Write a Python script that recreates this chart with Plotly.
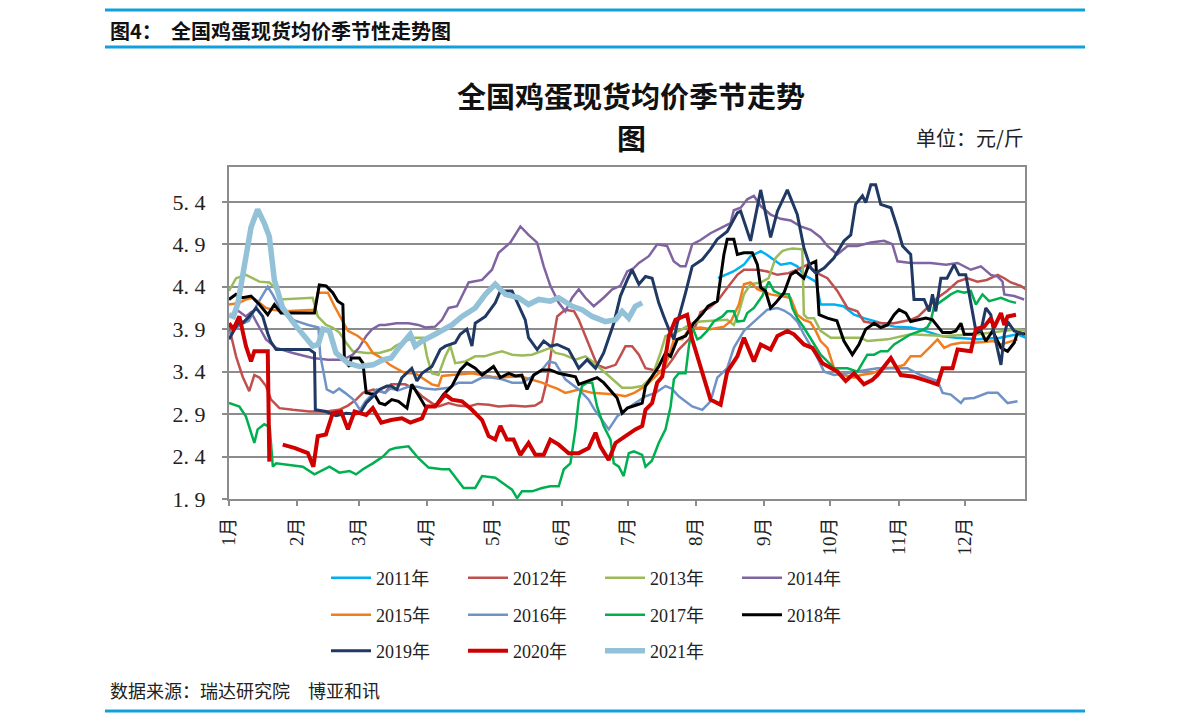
import plotly.graph_objects as go

# ---------------- data (day of year, price yuan/jin) ----------------
months = ["1月", "2月", "3月", "4月", "5月", "6月", "7月", "8月", "9月", "10月", "11月", "12月"]
month_start_day = [0, 31, 59, 90, 120, 151, 181, 212, 243, 273, 304, 334]
y_ticks = [1.9, 2.4, 2.9, 3.4, 3.9, 4.4, 4.9, 5.4]
y_ticktext = ["1. 9", "2. 4", "2. 9", "3. 4", "3. 9", "4. 4", "4. 9", "5. 4"]

d2011 = [222, 226, 229, 233.8, 236.8, 239.9, 241.4, 244, 247.4, 250.5, 255, 258, 261, 264, 266.4, 268.6,
         274.7, 279, 283.8, 288.3, 295, 302, 309.5, 316, 323.2, 330, 340, 350, 358, 361.8]
v2011 = [4.5, 4.55, 4.58, 4.66, 4.76, 4.8, 4.82, 4.78, 4.72, 4.66, 4.68, 4.64, 4.54, 4.5, 4.46, 4.19,
         4.19, 4.17, 4.07, 4.03, 3.98, 3.93, 3.92, 3.88, 3.82, 3.8, 3.78, 3.8, 3.84, 3.8]

d2012 = [0, 1, 3.2, 6.2, 9.2, 11.5, 13.8, 16.8, 19.1, 22.9, 29, 36.5, 44, 50, 54, 57.7, 60.8, 65.6, 70.9,
         73.6, 80, 84, 87.6, 92.1, 95.1, 99.7, 104, 108.8, 113, 117.9, 122.4, 128, 134.5, 139, 142, 144.4,
         146.7, 149, 152.7, 156.7, 158.8, 161.1, 164.1, 167.1, 170.9, 175.5, 178, 180, 183, 186.1, 189.1,
         195.9, 198.9, 201.5, 204.2, 208.8, 212, 214.1, 218, 221.7, 226, 230.8, 233.8, 240, 244.4, 249,
         254, 258, 262.6, 267.1, 271.7, 276.2, 280.8, 285.3, 288.3, 292.9, 302, 309.5, 313, 317, 321.7,
         326, 330.8, 335.3, 339.8, 344, 349, 352, 355, 359.5, 361.8]
v2012 = [3.95, 3.82, 3.58, 3.34, 3.17, 3.36, 3.33, 3.23, 3.07, 2.97, 2.95, 2.93, 2.93, 2.95, 3.0, 3.07,
         3.15, 3.19, 3.15, 3.25, 3.25, 3.2, 3.11, 3.03, 2.99, 3.03, 3.0, 2.99, 3.02, 3.01, 2.99, 3.0, 2.99,
         3.0, 3.05, 3.3, 3.7, 4.05, 4.13, 4.11, 4.01, 3.86, 3.66, 3.48, 3.44, 3.48, 3.6, 3.7, 3.7, 3.6,
         3.44, 3.4, 3.46, 3.55, 3.66, 3.78, 3.95, 4.1, 4.15, 4.23, 4.38, 4.54, 4.6, 4.6, 4.58, 4.54, 4.56,
         4.6, 4.66, 4.56, 4.5, 4.35, 4.15, 4.11, 3.99, 3.97, 3.97, 4.01, 4.05, 4.15, 4.27, 4.35, 4.46,
         4.5, 4.46, 4.48, 4.54, 4.5, 4.45, 4.41, 4.37]

d2013 = [0, 3.2, 7.7, 10.8, 13.8, 18.3, 21.4, 22.9, 30, 38, 40.3, 44.1, 47, 50.1, 53.2, 56.2, 62.3, 68.3,
         73.6, 75.5, 80, 84.5, 88.3, 89.9, 92.1, 95.1, 98.2, 100.5, 102.7, 107.3, 111.8, 116, 120.9, 124,
         128.5, 133, 137.6, 142.1, 145.9, 148.2, 152, 157.3, 161.8, 165, 169.4, 174, 178.5, 183, 187.6,
         192.1, 195.9, 198.2, 202, 205.8, 210.3, 214.1, 220, 226.2, 229.2, 231.5, 233.8, 236.8, 241.4, 245,
         248.2, 251.2, 253.5, 256, 260.3, 261, 262.6, 265.6, 268.6, 273.2, 279.2, 286.8, 289.8, 299, 309.5,
         324.7, 340, 353.5, 358, 361.5]
v2013 = [4.35, 4.5, 4.54, 4.5, 4.46, 4.45, 4.37, 4.25, 4.26, 4.27, 4.05, 3.95, 3.92, 3.86, 3.74, 3.64,
         3.62, 3.62, 3.66, 3.7, 3.76, 3.8, 3.8, 3.58, 3.38, 3.36, 3.58, 3.7, 3.5, 3.52, 3.58, 3.58, 3.62,
         3.64, 3.6, 3.59, 3.6, 3.64, 3.68, 3.62, 3.6, 3.54, 3.58, 3.52, 3.42, 3.31, 3.21, 3.21, 3.23, 3.34,
         3.62, 3.82, 3.85, 3.9, 3.97, 3.99, 4.0, 4.01, 3.95, 4.1, 4.31, 4.43, 4.45, 4.5, 4.74, 4.82, 4.84,
         4.85, 4.84, 4.07, 4.03, 4.03, 3.88, 3.8, 3.8, 3.8, 3.76, 3.78, 3.84, 3.82, 3.84, 3.88, 3.9, 3.88]

d2014 = [0, 4, 7.7, 10, 13.8, 16.8, 21.4, 29, 38, 45, 51.7, 56.2, 59, 62.3, 65, 68.3, 70.9, 76, 81.5, 86,
         89.1, 93.6, 96.7, 99.7, 103.5, 107.3, 108.8, 114.9, 119.4, 122.4, 127.7, 132.3, 136, 139.9, 142.9,
         145.9, 149.7, 152.7, 155.8, 158.8, 161.8, 165.6, 170.1, 174, 177.7, 180.8, 183.8, 186.1, 190.6,
         194.4, 198.9, 201.9, 204.9, 207.3, 210.3, 214.1, 218.6, 223.2, 227.7, 229.2, 232.3, 235.3, 238.3,
         241.4, 245.9, 250.5, 255, 259.5, 264.1, 268.6, 271.7, 276.2, 280.8, 285.3, 291.4, 297.4, 301.2,
         303.5, 309.5, 318.6, 325.5, 330.8, 336.8, 341.4, 345.9, 349, 351.2, 352, 356.5, 361]
v2014 = [4.05, 4.12, 4.05, 4.1, 3.92, 3.78, 3.68, 3.62, 3.56, 3.54, 3.54, 3.6, 3.68, 3.82, 3.9, 3.95, 3.95,
         3.97, 3.97, 3.95, 3.92, 3.93, 4.01, 4.15, 4.17, 4.37, 4.45, 4.48, 4.6, 4.8, 4.92, 5.11, 5.01, 4.92,
         4.64, 4.41, 4.21, 4.11, 4.27, 4.37, 4.27, 4.17, 4.27, 4.37, 4.41, 4.58, 4.62, 4.68, 4.76, 4.9, 4.88,
         4.7, 4.64, 4.64, 4.9, 4.95, 5.03, 5.09, 5.15, 5.3, 5.33, 5.43, 5.47, 5.35, 5.25, 5.2, 5.18, 5.11,
         5.07, 4.98, 4.88, 4.78, 4.88, 4.88, 4.92, 4.94, 4.9, 4.7, 4.68, 4.68, 4.66, 4.68, 4.6, 4.64, 4.54,
         4.52, 4.46, 4.31, 4.29, 4.25]

d2015 = [0, 4.7, 7.7, 10.8, 13.8, 16.8, 19.9, 25.1, 32, 38.8, 40.3, 44.9, 47.9, 50.9, 54, 58.5, 62.3, 65.3,
         69.9, 73, 77, 80, 84.5, 88.3, 92.1, 95.1, 96.7, 101.2, 106, 110.3, 115, 119.4, 124, 128, 133, 138,
         142.1, 145.9, 149, 152.7, 158.8, 164.9, 170, 175.5, 180, 184, 189.1, 193.6, 197.4, 200, 202, 205.8,
         208.8, 214.1, 218.6, 224.7, 228, 231.5, 233.8, 236.8, 239.9, 245.9, 250, 255, 258, 261, 264, 266.4,
         268.6, 271.7, 274.7, 279.2, 283.8, 286.8, 292, 297.4, 302, 306.5, 309.5, 314, 317.9, 321.7, 324.7,
         328, 332.3, 338, 343, 347.4, 350.5, 354, 358]
v2015 = [4.19, 4.21, 4.25, 4.27, 4.21, 4.15, 4.13, 4.11, 4.12, 4.13, 4.33, 4.33, 4.17, 4.03, 3.88, 3.82,
         3.74, 3.62, 3.55, 3.48, 3.42, 3.38, 3.38, 3.31, 3.25, 3.23, 3.35, 3.36, 3.37, 3.38, 3.36, 3.34, 3.33,
         3.34, 3.34, 3.3, 3.27, 3.23, 3.2, 3.15, 3.19, 3.15, 3.14, 3.13, 3.11, 3.15, 3.23, 3.34, 3.44, 3.6,
         3.78, 3.78, 3.9, 3.92, 3.9, 3.93, 4.0, 4.19, 4.43, 4.45, 4.37, 4.31, 4.29, 4.27, 4.07, 4.01, 3.98,
         3.88, 3.76, 3.68, 3.44, 3.36, 3.33, 3.36, 3.38, 3.44, 3.45, 3.48, 3.58, 3.58, 3.68, 3.78, 3.68, 3.72,
         3.74, 3.74, 3.75, 3.76, 3.72, 3.75, 3.78]

d2016 = [0, 5, 9, 13, 17.6, 20, 24, 30, 36, 40.6, 41.4, 44.4, 47.4, 50, 52.7, 56.5, 59.5, 62, 67.1, 70.9,
         73.2, 77, 82.3, 86, 89, 93.6, 99.7, 104.2, 110.3, 114.9, 119, 124, 128.5, 133, 137, 142, 145.2,
         148.2, 152.7, 158.8, 163.3, 166, 169.4, 172.4, 176.2, 180, 184.5, 189.1, 193.6, 198.2, 201, 204.2,
         210.3, 214.9, 218.6, 221.7, 226.2, 229.2, 233.8, 239.1, 244.4, 249, 252, 255, 258, 261, 266.4,
         270.2, 274.7, 280, 285.3, 294.4, 308, 314, 321.7, 324, 327.7, 332.3, 333.8, 338.3, 344.4, 349,
         353.5, 358]
v2016 = [3.85, 3.95, 4.0, 4.2, 4.4, 4.3, 4.1, 4.0, 3.95, 3.92, 3.6, 3.19, 3.15, 3.2, 3.15, 3.07, 2.95, 3.05,
         3.19, 3.15, 3.2, 3.18, 3.23, 3.22, 3.2, 3.19, 3.21, 3.27, 3.27, 3.33, 3.33, 3.31, 3.27, 3.27, 3.33,
         3.42, 3.52, 3.5, 3.31, 3.19, 3.07, 2.95, 2.83, 2.72, 2.87, 2.95, 3.03, 3.11, 3.15, 3.23, 3.2, 3.11,
         2.99, 2.95, 3.05, 3.33, 3.44, 3.68, 3.88, 4.01, 4.13, 4.15, 4.12, 4.07, 3.99, 3.84, 3.6, 3.4, 3.36,
         3.38, 3.4, 3.44, 3.44, 3.36, 3.29, 3.15, 3.13, 3.03, 3.08, 3.09, 3.15, 3.15, 3.03, 3.05]

d2017 = [0, 4.7, 7.7, 11.5, 13, 16, 18.5, 19.9, 21.4, 27, 33.5, 38.8, 42, 45.6, 50.1, 54.7, 57.7, 60.8,
         65.3, 69.9, 72.9, 75.5, 81.5, 86, 90.6, 96.7, 100, 103.5, 106.5, 111.8, 114.9, 120.9, 125.5, 128.5,
         130.8, 133, 137.6, 142.1, 145.9, 149.7, 152, 155, 157.3, 158.8, 160.3, 162.6, 164.9, 167.1, 170.1,
         173.2, 174.7, 177, 179.2, 181.5, 183.8, 187.6, 189.1, 192, 195.1, 198.2, 200.5, 202, 204.2, 207.3,
         208.8, 210.3, 212.6, 214.1, 217.1, 220.1, 224, 226.2, 229.2, 230.8, 233.8, 235.3, 238.3, 242.1,
         245.1, 247.4, 250.5, 254.2, 255.8, 258, 261, 264.9, 268.6, 271.7, 274.7, 280.8, 285.3, 289.8,
         292.9, 295.9, 299, 302, 305.8, 309.5, 314, 317, 318.6, 320.1, 322.4, 325.5, 327.7, 330.8, 333.8,
         336.8, 339.1, 342.1, 345.1, 350.5, 354.2, 357.3]
v2017 = [3.03, 2.99, 2.87, 2.56, 2.72, 2.78, 2.75, 2.28, 2.32, 2.3, 2.28, 2.19, 2.23, 2.28, 2.21, 2.23, 2.19,
         2.25, 2.32, 2.4, 2.48, 2.5, 2.52, 2.38, 2.27, 2.25, 2.25, 2.13, 2.03, 2.03, 2.17, 2.15, 2.07, 2.01,
         1.91, 1.99, 1.99, 2.03, 2.05, 2.05, 2.25, 2.32, 2.72, 3.07, 3.23, 3.27, 3.27, 2.99, 2.76, 2.6, 2.32,
         2.28, 2.17, 2.44, 2.46, 2.42, 2.28, 2.35, 2.56, 2.72, 2.99, 3.31, 3.38, 3.38, 3.7, 3.93, 3.78, 3.8,
         3.88, 3.99, 4.05, 4.11, 4.11, 3.99, 4.0, 4.09, 4.15, 4.29, 4.46, 4.35, 4.31, 4.31, 4.15, 4.03, 3.92,
         3.76, 3.6, 3.52, 3.44, 3.44, 3.4, 3.6, 3.6, 3.64, 3.64, 3.72, 3.78, 3.84, 3.88, 3.92, 3.99, 4.17,
         4.21, 4.27, 4.31, 4.35, 4.33, 4.35, 4.19, 4.31, 4.23, 4.27, 4.23, 4.21]

d2018 = [0, 3.2, 6.2, 10, 13.8, 17.6, 20.6, 23.6, 30, 38.8, 41, 44.1, 47.1, 49.4, 51.7, 52.4, 54.7, 55.5,
         59.2, 60.8, 62.3, 66.1, 68.3, 70.9, 73.9, 76.9, 80.8, 83, 86.8, 89.1, 93.6, 97.4, 101.2, 105, 108,
         111.8, 114.9, 117.9, 120.1, 123.2, 127, 130, 133, 135.3, 138.3, 142.1, 145.9, 149.7, 154, 157.3,
         158.8, 163.3, 167.1, 170.1, 174, 176.2, 178.5, 180.8, 185.3, 187.6, 189.1, 192.1, 195.1, 198.2,
         200.5, 203.5, 207.3, 211, 214.9, 217.5, 221.7, 224.7, 226.2, 229.2, 230.8, 233.8, 237.6, 239.9,
         241.4, 243.6, 245.9, 248.2, 252, 255, 257.3, 261, 263.3, 266.4, 267.9, 271.7, 276, 279.2, 283, 286,
         289.1, 292.9, 295.9, 299, 302, 304.2, 307.3, 309.5, 313.3, 316.4, 319.4, 322.4, 324, 327.7, 330,
         332.3, 333.8, 337.6, 341.4, 343.6, 346.7, 350.5, 353.5, 356.5, 358, 361.8]
v2018 = [4.25, 4.31, 4.27, 4.29, 4.19, 4.07, 4.19, 4.09, 4.09, 4.09, 4.42, 4.41, 4.33, 4.23, 4.19, 3.54,
         3.46, 3.56, 3.56, 3.5, 3.15, 3.13, 3.03, 3.01, 3.07, 3.05, 2.97, 3.25, 3.09, 2.99, 2.99, 3.13, 3.23,
         3.42, 3.5, 3.44, 3.36, 3.42, 3.46, 3.33, 3.38, 3.35, 3.36, 3.19, 3.36, 3.42, 3.42, 3.38, 3.36, 3.34,
         3.25, 3.29, 3.33, 3.27, 3.15, 3.09, 2.91, 2.97, 3.01, 3.03, 3.23, 3.34, 3.46, 3.62, 3.58, 3.78, 3.82,
         3.97, 4.08, 4.17, 4.23, 4.78, 4.96, 4.96, 4.78, 4.8, 4.8, 4.66, 4.39, 4.35, 4.15, 4.21, 4.33, 4.54,
         4.58, 4.5, 4.66, 4.7, 4.07, 4.03, 4.0, 3.76, 3.6, 3.72, 3.9, 3.97, 3.92, 3.95, 4.07, 4.13, 4.09,
         3.99, 4.01, 4.03, 4.01, 3.92, 3.86, 3.86, 3.88, 3.97, 3.84, 3.84, 3.88, 3.76, 3.88, 3.68, 3.64, 3.74,
         3.86, 3.84]

d2019 = [0, 4.7, 6.5, 9.2, 12.3, 15.3, 17.6, 19, 21.4, 30, 36.5, 38.8, 39.2, 44, 48.6, 53.2, 57, 59.5,
         62.3, 65, 68.3, 71.7, 73.6, 76.2, 78.5, 83, 85.3, 87.6, 92.1, 95.9, 98.2, 102.7, 105, 108, 110.3,
         111.8, 116.4, 120.9, 123.2, 128.5, 131.5, 134.5, 136, 139.9, 142.9, 145.9, 149, 154.2, 158.8, 162.6,
         166.4, 170.1, 174.7, 177.7, 180.8, 183, 186.1, 189.1, 192.1, 195.1, 197.4, 199.7, 202, 203.5,
         207.3, 210.3, 214.9, 218.6, 221.7, 226.2, 230.8, 232.3, 236.8, 241.4, 245.9, 249, 253.5, 258, 261,
         264.1, 266.4, 270.2, 274.7, 279.2, 282.3, 284.5, 287.6, 289.1, 291.4, 293.6, 295.9, 300.5, 303.5,
         305.8, 309.5, 311, 315.6, 317.9, 319.4, 320.9, 323.2, 326, 329.2, 331.5, 334.5, 336.8, 339.1,
         341.4, 343.6, 345.9, 347.4, 350.5, 352, 353.5, 356.5, 361]
v2019 = [3.78, 4.0, 3.98, 4.05, 4.15, 4.05, 3.85, 3.75, 3.66, 3.66, 3.66, 3.62, 2.95, 2.93, 2.88, 2.91, 2.9,
         2.91, 3.03, 3.1, 3.19, 3.23, 3.23, 3.19, 3.33, 3.44, 3.29, 3.38, 3.46, 3.66, 3.7, 3.74, 3.84, 3.9,
         3.7, 3.97, 4.05, 4.21, 4.35, 4.35, 4.17, 4.01, 3.8, 3.66, 3.76, 3.7, 3.72, 3.66, 3.44, 3.54, 3.44,
         3.62, 3.97, 4.29, 4.48, 4.6, 4.43, 4.52, 4.5, 4.21, 4.05, 3.9, 3.78, 3.97, 4.33, 4.64, 4.72, 4.84,
         4.96, 5.05, 5.27, 5.29, 4.94, 5.54, 4.98, 5.29, 5.54, 5.25, 4.86, 4.62, 4.56, 4.62, 4.74, 4.94, 5.01,
         5.37, 5.47, 5.39, 5.6, 5.6, 5.37, 5.33, 5.09, 4.88, 4.78, 4.25, 4.25, 4.11, 4.31, 4.11, 4.5, 4.5,
         4.66, 4.54, 4.54, 4.23, 3.88, 3.88, 4.15, 4.07, 3.84, 3.48, 3.84, 3.99, 3.88, 3.84]

d2020 = [0, 2, 4.7, 7.7, 10, 11.5, 17.6, 18.3, 21, 24.4, 30, 35.8, 38.3, 40.3, 44, 47.1, 50.9, 54, 57, 62.3,
         65.3, 69.1, 73.6, 78.5, 82.3, 87.6, 89.9, 93.6, 98.2, 101.2, 105.8, 110.3, 114.9, 117.9, 120.9,
         123.2, 126.2, 129.2, 132.3, 136, 139.1, 142.9, 145.9, 149.7, 154.2, 158.8, 163.3, 166.4, 168.6,
         172.4, 175.5, 180, 184.5, 187.6, 189.1, 192.1, 194.4, 196.7, 199.7, 202.7, 208, 210.3, 214.9, 218.6,
         223.2, 226.2, 230.8, 233.8, 238.3, 241.4, 245.9, 249, 253.5, 256.5, 261, 264.9, 269.4, 273.2, 276.2,
         280, 283.8, 288.3, 292, 294.4, 300.5, 305, 311, 317, 321.7, 324, 328.5, 330.8, 336.8, 339.1, 342.9,
         345.9, 347.4, 350.5, 352, 353.5, 357.3]
v2020 = [3.97, 3.9, 4.05, 3.7, 3.52, 3.64, 3.64, 2.34, None, 2.54, 2.5, 2.44, 2.28, 2.64, 2.66, 2.91, 2.93,
         2.72, 2.93, 2.89, 2.97, 2.8, 2.83, 2.85, 2.8, 2.85, 2.99, 2.99, 3.13, 3.07, 3.05, 2.95, 2.83, 2.64,
         2.6, 2.76, 2.6, 2.6, 2.42, 2.56, 2.42, 2.42, 2.6, 2.54, 2.44, 2.44, 2.5, 2.68, 2.52, 2.36, 2.56,
         2.64, 2.72, 2.76, 2.95, 3.03, 3.27, 3.34, 3.82, 4.01, 4.07, 3.78, 3.38, 3.07, 3.01, 3.4, 3.58, 3.8,
         3.52, 3.72, 3.66, 3.82, 3.88, 3.84, 3.72, 3.68, 3.5, 3.44, 3.4, 3.29, 3.38, 3.25, 3.3, 3.36, 3.56,
         3.36, 3.34, 3.29, 3.25, 3.44, 3.44, 3.66, 3.64, 3.9, 3.93, 4.03, 3.92, 4.09, 3.95, 4.05, 4.07]

d2021 = [0, 2, 4, 7.7, 10, 13, 16, 18.3, 20.6, 24.4, 30, 38, 40.5, 42.6, 45.6, 48.6, 54, 59.2, 65.3, 69.9,
         73.6, 77, 82.3, 84.5, 87.6, 93.6, 101.2, 105.8, 111.8, 116.4, 120.9, 125.5, 131.5, 136, 140.6, 145.9,
         149.7, 155.8, 160.3, 164.9, 170.9, 175.5, 178.5, 181.5, 184.5, 187.6]
v2021 = [4.07, 4.05, 4.2, 4.76, 5.1, 5.31, 5.15, 4.99, 4.48, 4.15, 3.95, 3.7, 3.72, 3.9, 3.88, 3.62, 3.5,
         3.46, 3.48, 3.54, 3.56, 3.68, 3.84, 3.7, 3.76, 3.84, 3.95, 4.05, 4.15, 4.31, 4.43, 4.31, 4.27, 4.19,
         4.25, 4.23, 4.27, 4.17, 4.13, 4.05, 3.99, 4.01, 4.11, 4.03, 4.17, 4.21]

series = [
    ("2011年", d2011, v2011, "#00B0F0", 2.5, "legend"),
    ("2012年", d2012, v2012, "#C0504D", 2.5, "legend"),
    ("2013年", d2013, v2013, "#9BBB59", 2.5, "legend"),
    ("2014年", d2014, v2014, "#8064A2", 2.5, "legend"),
    ("2015年", d2015, v2015, "#F07D1E", 2.5, "legend2"),
    ("2016年", d2016, v2016, "#6F93C6", 2.5, "legend2"),
    ("2017年", d2017, v2017, "#00B050", 2.5, "legend2"),
    ("2018年", d2018, v2018, "#000000", 3, "legend2"),
    ("2019年", d2019, v2019, "#1F3864", 3, "legend3"),
    ("2020年", d2020, v2020, "#D00000", 4, "legend3"),
    ("2021年", d2021, v2021, "#93C1D7", 5.5, "legend3"),
]

# ---------------- figure ----------------
W, H = 1191, 721
L, R, T, B = 229, 1025, 167, 499


def px(x):
    return (x - L) / (R - L)


def py(y):
    return (B - y) / (B - T)


fig = go.Figure()
for name, xs, ys, color, width, lg in series:
    fig.add_trace(go.Scatter(x=xs, y=ys, name=name, mode="lines", legend=lg,
                             line=dict(color=color, width=width), connectgaps=False))

serif = "Liberation Serif, Noto Sans CJK SC"
cjk = "Noto Sans CJK SC"
grid = "#8C8C8C"

legend_common = dict(orientation="h", xanchor="left", yanchor="middle", entrywidth=82,
                     entrywidthmode="pixels", font=dict(family=serif, size=18, color="#222"),
                     bgcolor="rgba(0,0,0,0)", traceorder="normal", itemwidth=40)

fig.update_layout(
    width=W, height=H,
    margin=dict(l=L, r=W - R, t=T, b=H - B, pad=0),
    paper_bgcolor="white", plot_bgcolor="white",
    showlegend=True,
    legend=dict(x=px(326), y=py(578), **legend_common),
    legend2=dict(x=px(326), y=py(615), **legend_common),
    legend3=dict(x=px(326), y=py(651), **legend_common),
    xaxis=dict(range=[0, 361.4], tickmode="array", tickvals=month_start_day, ticktext=months,
               tickangle=-90, ticks="outside", ticklen=5, tickwidth=1.5, tickcolor=grid,
               showline=True, linecolor=grid, linewidth=2, mirror=True, showgrid=False,
               zeroline=False, tickfont=dict(family=serif, size=19, color="#222"),
               ticklabelstandoff=4),
    yaxis=dict(range=[1.9, 5.81], tickmode="array", tickvals=y_ticks, ticktext=y_ticktext,
               ticks="outside", ticklen=5, tickwidth=1.5, tickcolor=grid,
               showline=True, linecolor=grid, linewidth=2, mirror=True,
               showgrid=True, gridcolor=grid, gridwidth=2, zeroline=False,
               tickfont=dict(family=serif, size=22, color="#222"), ticklabelstandoff=12),
)

ann = [
    dict(text="<b>图4：  全国鸡蛋现货均价季节性走势图</b>", x=px(108), y=py(30), xanchor="left",
         yanchor="middle", font=dict(family=cjk, size=20, color="#111"), showarrow=False),
    dict(text="<b>全国鸡蛋现货均价季节走势</b>", x=px(631), y=py(95), xanchor="center",
         yanchor="middle", font=dict(family=cjk, size=29, color="#111"), showarrow=False),
    dict(text="<b>图</b>", x=px(631), y=py(137), xanchor="center",
         yanchor="middle", font=dict(family=cjk, size=29, color="#111"), showarrow=False),
    dict(text="单位：元/斤", x=px(970), y=py(137), xanchor="center", yanchor="middle",
         font=dict(family=cjk, size=20, color="#222"), showarrow=False),
    dict(text="数据来源：瑞达研究院　博亚和讯", x=px(108), y=py(690), xanchor="left",
         yanchor="middle", font=dict(family=cjk, size=18, color="#222"), showarrow=False),
]
for a in ann:
    fig.add_annotation(xref="paper", yref="paper", **a)

for yy in (10, 47, 711):
    fig.add_shape(type="line", xref="paper", yref="paper", x0=px(105), x1=px(1085),
                  y0=py(yy), y1=py(yy), line=dict(color="#12A0DC", width=3))

fig.write_html("out.html")
